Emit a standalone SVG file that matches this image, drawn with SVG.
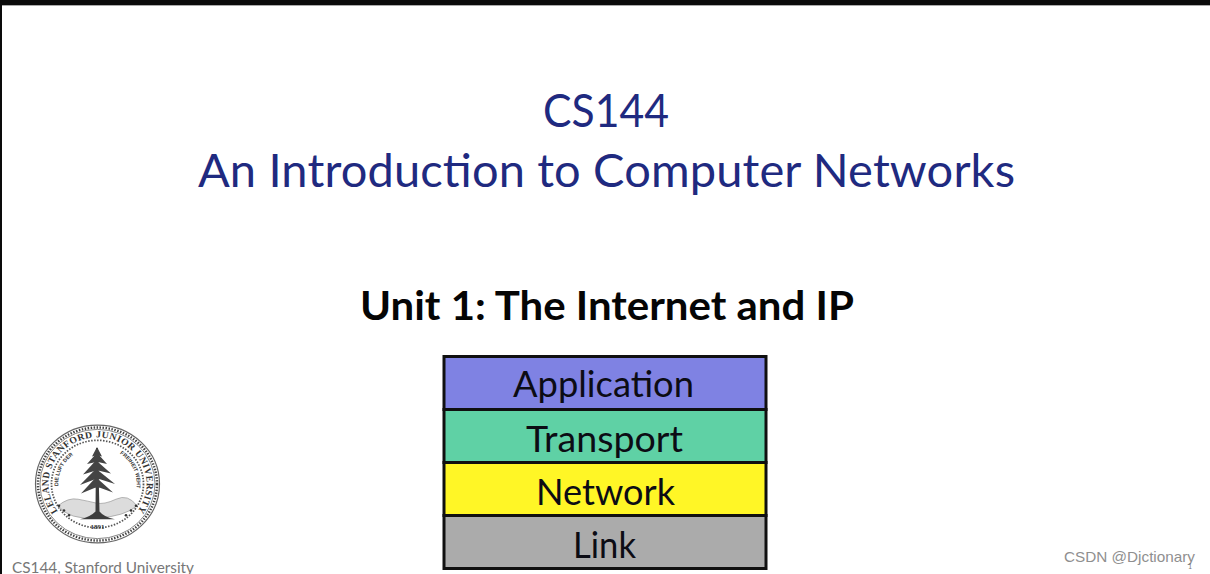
<svg xmlns="http://www.w3.org/2000/svg" width="1210" height="574" viewBox="0 0 1210 574">
<style>
text{font-family:Lato,"Liberation Sans",sans-serif}
.t{fill:#1f2a80;font-size:47px;text-anchor:middle}
.l{fill:#0c0c14;font-size:36.500px;text-anchor:middle}
.b{stroke:#101010;stroke-width:3}
.s{font-family:"Liberation Serif",serif;fill:#333;text-anchor:middle}
.i{font-family:"Liberation Sans",sans-serif;font-size:5.400px;font-weight:700;fill:#333;text-anchor:middle}
.tier{fill:#444}
</style>
<defs>
<path id="outer" d="M60 515.500A49 49 0 1 1 135 515.500"/>
<path id="innerL" d="M60.500 497A38.500 38.500 0 0 1 83 448"/>
<path id="innerR" d="M112 448A38.500 38.500 0 0 1 134.500 497"/>
</defs>
<rect width="1210" height="574" fill="#fff"/>
<rect width="1210" height="5" fill="#0a0a0a"/>
<rect y="5" width="1210" height="1" fill="#aaa"/>
<rect width="2" height="574" fill="#0a0a0a"/>
<g id="title">
<text class="t" x="606" y="127" font-size="45" textLength="126" lengthAdjust="spacingAndGlyphs">CS144</text>
<text class="t" x="606.500" y="187" textLength="817" lengthAdjust="spacing">An Introduction to Computer Networks</text>
</g>
<text id="unit" x="607" y="320" font-size="41" font-weight="700" text-anchor="middle" fill="#050505" textLength="494" lengthAdjust="spacingAndGlyphs">Unit 1: The Internet and IP</text>
<g id="application"><rect class="b" x="444" y="356.500" width="322" height="53" fill="#7f82e3"/><text class="l" x="603.500" y="397" textLength="181" lengthAdjust="spacingAndGlyphs">Application</text></g>
<g id="transport"><rect class="b" x="444" y="409.500" width="322" height="53" fill="#5fd1a5"/><text class="l" x="604.500" y="452" textLength="157" lengthAdjust="spacingAndGlyphs">Transport</text></g>
<g id="network"><rect class="b" x="444" y="462.500" width="322" height="53" fill="#fff626"/><text class="l" x="605.500" y="505" textLength="139" lengthAdjust="spacingAndGlyphs">Network</text></g>
<g id="link"><rect class="b" x="444" y="515.500" width="322" height="53" fill="#ababab"/><text class="l" x="604.500" y="558" textLength="63" lengthAdjust="spacingAndGlyphs">Link</text></g>
<g id="seal" transform="translate(97.500 484) scale(1 .95) translate(-97.500 -484)">
<circle cx="97.500" cy="484" r="62" fill="#fff" stroke="#666" stroke-width="1.200"/>
<circle cx="97.500" cy="484" r="59.500" fill="none" stroke="#444" stroke-width="2.500" stroke-dasharray="1.500 1.500"/>
<circle cx="97.500" cy="484" r="57.500" fill="none" stroke="#666" stroke-width=".8"/>
<circle cx="97.500" cy="484" r="46" fill="none" stroke="#555" stroke-width="1.800" stroke-dasharray="1.500 1.500"/>
<text class="s" font-size="9.800" font-weight="700" letter-spacing=".45"><textPath href="#outer" startOffset="50%">LELAND STANFORD JUNIOR UNIVERSITY</textPath></text>
<text class="i"><textPath href="#innerL" startOffset="50%">DIE LUFT DER</textPath></text>
<text class="i"><textPath href="#innerR" startOffset="50%">FREIHEIT WEHT</textPath></text>
<path d="M58 507Q68 498 78 500T96 504T116 500T137 507Q125 518 97 520T58 507Z" fill="#dcdcdc" stroke="#888" stroke-width=".6"/>
<path d="M96 446L95.500 513Q90 519 80 521H115Q104 519 99.500 513L98 446Z" fill="#3c3c3c"/>
<g class="tier">
<path d="M97 445L102 455 98 454H96L92 455Z"/>
<path d="M97 451L107 463 99 461 95 461 87 463Z"/>
<path d="M96 459L111 473 99 470 95 470 83 474Z"/>
<path d="M96 468L115 484 100 479 95 479 80 485Z"/>
<path d="M96 477L113 493 100 488 95 488 81 494Z"/>
</g>
<text class="s" x="97.500" y="531" font-size="7" font-weight="700">1891</text>
<g fill="#333"><circle cx="59" cy="507" r="1.300"/><circle cx="64" cy="512" r="1.300"/><circle cx="69" cy="517" r="1.300"/><circle cx="126" cy="517" r="1.300"/><circle cx="131" cy="512" r="1.300"/><circle cx="136" cy="507" r="1.300"/></g>
</g>
<text id="footer" x="12" y="573" font-size="15.500" fill="#777" textLength="182" lengthAdjust="spacingAndGlyphs">CS144, Stanford University</text>
<text id="watermark" x="1064" y="562" font-size="15" fill="#8f8f8f" textLength="131" lengthAdjust="spacingAndGlyphs" style="font-family:'Liberation Sans',sans-serif">CSDN @Djctionary</text>
<text id="page" x="1190" y="569" font-size="7" fill="#777" text-anchor="middle">1</text>
</svg>
